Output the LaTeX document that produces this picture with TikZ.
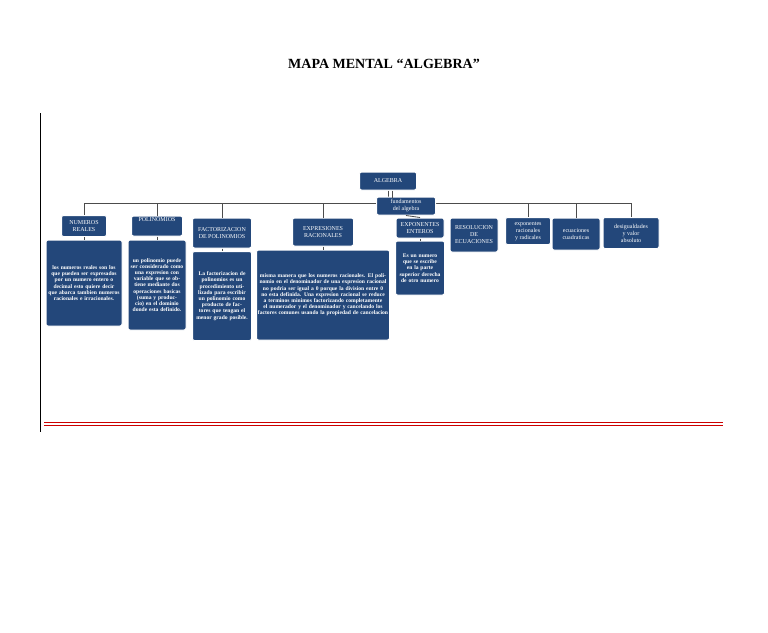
\documentclass[tikz,border=0pt]{standalone}
\usepackage{fontspec}
\setmainfont{Liberation Serif}
\begin{document}
\begin{tikzpicture}[x=1pt,y=-1pt,
 bx/.style={draw=white,line width=1pt,fill=blue1,rounded corners=2pt,text=white,align=center,inner sep=1pt,font=\fontsize{5.6}{6.2}\selectfont\bfseries},
 hd/.style={bx,font=\fontsize{6}{7}\selectfont},
 ln/.style={draw=gray!60!black,line width=0.8pt}]
\definecolor{blue1}{HTML}{23477A}
\useasboundingbox (0,0) rectangle (768,632);
\node[font=\fontsize{14}{16}\selectfont\bfseries] (title) at (384,64) {MAPA MENTAL “ALGEBRA”};
\draw[line width=0.8pt] (40,113) -- (40,432);
\draw[red!80!black,line width=0.8pt] (44,422) -- (723,422) (44,425) -- (723,425);
\coordinate (bl) at (84,203); \coordinate (br) at (631,203);
\draw[ln] (bl) -- (br);
\node[hd,minimum width=57,minimum height=18] (alg) at (388,181) {ALGEBRA};
\draw[ln] (alg.south) -- (388,203);
\node[hd,minimum width=59,minimum height=18] (fun) at (406,206) {fundamentos\\del algebra};
\draw[ln] (alg.south) ++(4,0) -- ++(0,7);
% headers
\node[hd,minimum width=45,minimum height=21] (h1) at (84,226) {NUMEROS\\REALES};
\node[hd,minimum width=51,minimum height=20] (h2) at (157,226) {POLINOMIOS\\[5pt]};
\node[hd,minimum width=59,minimum height=30] (h3) at (222,233) {FACTORIZACION\\DE POLINOMIOS};
\node[hd,minimum width=61,minimum height=28] (h4) at (323,232) {EXPRESIONES\\RACIONALES};
\node[hd,minimum width=48,minimum height=20] (h5) at (420,228) {EXPONENTES\\ENTEROS};
\node[hd,minimum width=48,minimum height=34] (h6) at (474,235) {RESOLUCION\\DE\\ECUACIONES};
\node[hd,minimum width=45,minimum height=27] (h7) at (528,231) {exponentes\\racionales\\y radicales};
\node[hd,minimum width=48,minimum height=32] (h8) at (576,234) {ecuaciones\\cuadraticas};
\node[hd,minimum width=56,minimum height=31] (h9) at (631,233) {desigualdades\\y valor\\absoluto};
\foreach \n/\x in {h1/84,h2/157,h3/222,h4/323,h7/528,h8/576,h9/631}
  \draw[ln] (\x,203) -- (\n.north);
\draw[ln] (fun.south) -- (h5.north);
% descriptions
\node[bx,text width=74,minimum height=86] (d1) at (84,283) {los numeros reales son los que pueden ser expresados por un numero entero o decimal esto quiere decir que abarca tambien numeros racionales e irracionales.};
\node[bx,text width=56,minimum height=90] (d2) at (157,285) {un polinomio puede ser considerado como una expresion con variable que se obtiene mediante dos operaciones basicas (suma y produccio) en el dominio donde esta definido.};
\node[bx,text width=57,minimum height=89] (d3) at (222,296) {La factorizacion de polinomios es un procedimiento utilizado para escribir un polinomio como producto de factores que tengan el menor grado posible.};
\node[bx,text width=131,minimum height=90] (d4) at (323,295) {misma manera que los numeros racionales. El polinomio en el denominador de una expresion racional no podria ser igual a 0 porque la division entre 0 no esta definida. Una expresion racional se reduce a terminos minimos factorizando completamente el numerador y el denominador y cancelando los factores comunes usando la propiedad de cancelacion};
\node[bx,text width=47,minimum height=54] (d5) at (420,268) {Es un numero que se escribe en la parte superior derecha de otro numero};
\foreach \a/\b in {h1/d1,h2/d2,h3/d3,h4/d4,h5/d5} \draw[ln] (\a) -- (\b);
\end{tikzpicture}
\end{document}
